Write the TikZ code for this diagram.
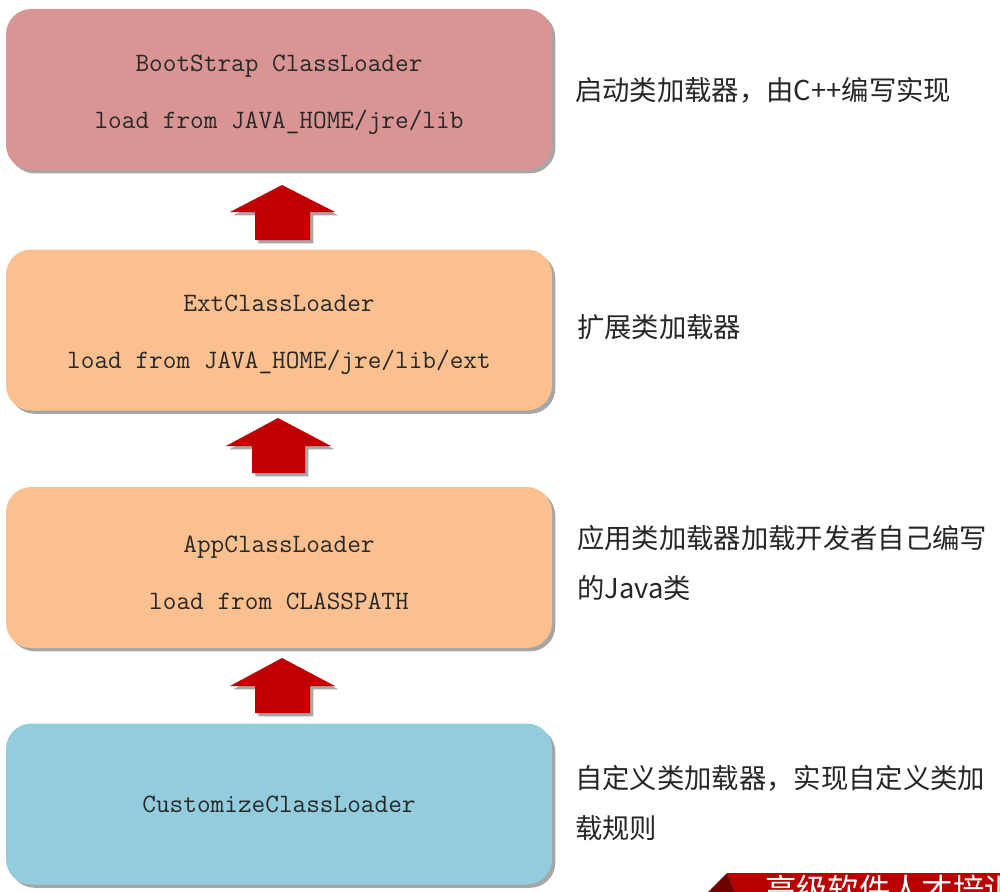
\documentclass[tikz,border=0pt]{standalone}
\usepackage{fontspec}
\newfontfamily\cjk{Noto Sans CJK SC}
\usepackage{tikz}
\usetikzlibrary{shadows}

\definecolor{bootpink}{RGB}{217,149,148}
\definecolor{peach}{RGB}{250,192,144}
\definecolor{skyblue}{RGB}{147,205,221}
\definecolor{arrowred}{RGB}{192,0,0}
\definecolor{textgray}{RGB}{40,40,40}
\definecolor{bannerred}{RGB}{184,0,0}
\definecolor{bannerdark}{RGB}{112,0,0}

\tikzset{
  loader/.style={rounded corners=19pt, minimum width=409.5pt, minimum height=120.75pt,
    align=center, text=textgray, font=\fontsize{19.9}{42.75}\selectfont\ttfamily,
    drop shadow={shadow xshift=2.5pt, shadow yshift=-2.5pt, opacity=0.35, fill=black}},
  note/.style={anchor=west, inner sep=0pt, align=left, text=black!85,
    font=\fontsize{20.5}{37.5}\selectfont\cjk},
  uparrow/.style={fill=arrowred,
    drop shadow={shadow xshift=2.5pt, shadow yshift=-2.5pt, opacity=0.35, fill=black}}
}

\begin{document}
\begin{tikzpicture}[x=0.75pt,y=0.75pt,yscale=-1,xscale=1]
\useasboundingbox (0,0) rectangle (1000,892);

%Shape: Rounded Rect [id:boot]
\node [loader, fill=bootpink] (boot) at (279,89.5) {\rule{0pt}{20pt}BootStrap ClassLoader\\load from JAVA\_HOME/jre/lib};
%Shape: Rounded Rect [id:ext]
\node [loader, fill=peach] (ext) at (279,330) {\rule{0pt}{20pt}ExtClassLoader\\load from JAVA\_HOME/jre/lib/ext};
%Shape: Rounded Rect [id:app]
\node [loader, fill=peach] (app) at (279,567.5) {\rule{0pt}{20pt}AppClassLoader\\load from CLASSPATH};
%Shape: Rounded Rect [id:custom]
\node [loader, fill=skyblue] (custom) at (279,804) {CustomizeClassLoader};

%Shape: Up Arrow [id:ext-boot]
\fill [uparrow] (282,185) -- (335,212) -- (310,212) -- (310,240) -- (255,240) -- (255,212) -- (230,212) -- cycle ;
%Shape: Up Arrow [id:app-ext]
\fill [uparrow] (278,418) -- (331,446) -- (305,446) -- (305,473) -- (252,473) -- (252,446) -- (226,446) -- cycle ;
%Shape: Up Arrow [id:custom-app]
\fill [uparrow] (282,658) -- (335,686) -- (310,686) -- (310,713) -- (255,713) -- (255,686) -- (230,686) -- cycle ;

% Text Node
\draw (575,90) node [note] (bootnote) {启动类加载器，由C++编写实现};
% Text Node
\draw (577,327) node [note] (extnote) {扩展类加载器};
% Text Node
\draw (577,563) node [note] (appnote) {应用类加载器加载开发者自己编写\\的Java类};
% Text Node
\draw (575,803) node [note] (customnote) {自定义类加载器，实现自定义类加\\载规则};

%Shape: Banner [id:banner]
\begin{scope}
\clip (0,0) rectangle (1000,892);
\fill [bannerred] (727,873) -- (1000,873) -- (1000,892) -- (735,892) -- cycle ;
\fill [bannerdark] (708,892) -- (727,873) -- (735,892) -- cycle ;
\draw (765,901) node [anchor=base west, inner sep=0pt, text=white, font=\fontsize{23.5}{28}\selectfont\cjk] (banner) {高级软件人才培训专家};
\end{scope}

\end{tikzpicture}
\end{document}
